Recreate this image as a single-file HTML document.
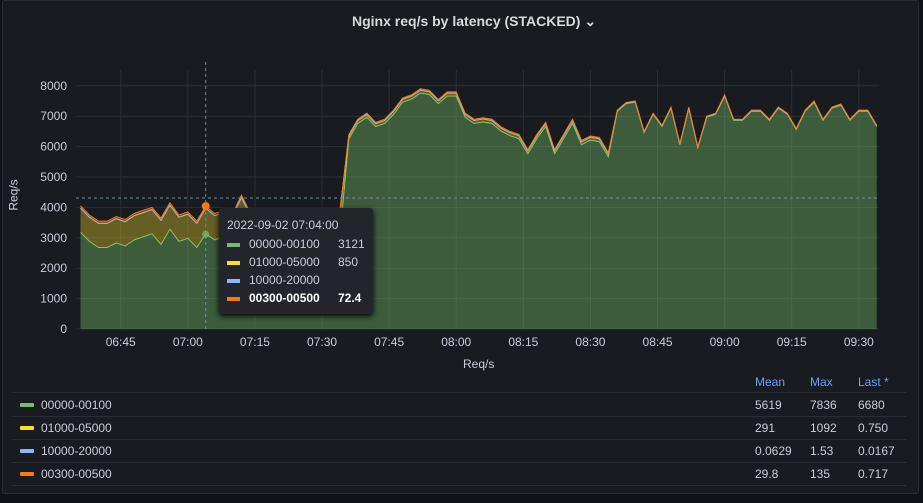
<!DOCTYPE html>
<html><head><meta charset="utf-8"><style>
body{margin:0;width:923px;height:503px;background:#111217;font-family:"Liberation Sans",sans-serif;overflow:hidden;position:relative}
.panel{position:absolute;left:2px;top:0;width:917px;height:494px;background:#181b1f;border:1px solid #2a2d33;border-radius:3px;box-sizing:border-box}
.t{position:absolute;color:#ccccdc;font-size:12px;white-space:nowrap}
.row{position:absolute;left:12px;width:894px;height:23px;border-bottom:1px solid #2a2d33;color:#ccccdc;font-size:12px}
.row span{position:absolute;top:5px}
.sw{position:absolute;left:8px;top:10px;width:14px;height:4px;border-radius:1px}
.hd{position:absolute;top:375px;color:#6e9fff;font-size:12px}
</style></head><body>
<div class="panel"></div>
<div class="t" style="left:352px;top:13px;font-size:14px;font-weight:bold;color:#d8d9da">Nginx req/s by latency (STACKED) ⌄</div>
<svg id="chart" width="923" height="503" style="position:absolute;left:0;top:0"></svg>
<div class="t" style="left:463px;top:357px">Req/s</div>
<div class="t" style="left:-2px;top:188px;transform:rotate(-90deg)">Req/s</div>
<div class="hd" style="left:755px">Mean</div>
<div class="hd" style="left:810px">Max</div>
<div class="hd" style="left:858px">Last *</div>
<div style="position:absolute;left:12px;top:392px;width:894px;border-top:1px solid #2a2d33"></div>
<div class="row" style="top:393px"><div class="sw" style="background:#73bf69"></div><span style="left:29px">00000-00100</span><span style="left:743px">5619</span><span style="left:798px">7836</span><span style="left:846px">6680</span></div>
<div class="row" style="top:416px"><div class="sw" style="background:#fade2a"></div><span style="left:29px">01000-05000</span><span style="left:743px">291</span><span style="left:798px">1092</span><span style="left:846px">0.750</span></div>
<div class="row" style="top:439px"><div class="sw" style="background:#8ab8ff"></div><span style="left:29px">10000-20000</span><span style="left:743px">0.0629</span><span style="left:798px">1.53</span><span style="left:846px">0.0167</span></div>
<div class="row" style="top:462px"><div class="sw" style="background:#ff780a"></div><span style="left:29px">00300-00500</span><span style="left:743px">29.8</span><span style="left:798px">135</span><span style="left:846px">0.717</span></div>
<div style="position:absolute;left:219px;top:208px;width:154px;height:106px;background:#22252b;border-radius:3px;box-shadow:0 2px 6px #000">
<div class="t" style="left:8px;top:10px">2022-09-02 07:04:00</div>
<div style="position:absolute;left:8px;top:35px;width:13px;height:4px;background:#73bf69"></div><div class="t" style="left:30px;top:29px">00000-00100</div><div class="t" style="left:119px;top:29px">3121</div>
<div style="position:absolute;left:8px;top:53px;width:13px;height:4px;background:#fade2a"></div><div class="t" style="left:30px;top:47px">01000-05000</div><div class="t" style="left:119px;top:47px">850</div>
<div style="position:absolute;left:8px;top:71px;width:13px;height:4px;background:#8ab8ff"></div><div class="t" style="left:30px;top:65px">10000-20000</div>
<div style="position:absolute;left:8px;top:89px;width:13px;height:4px;background:#ff780a"></div><div class="t" style="left:30px;top:83px;font-weight:bold;color:#fff">00300-00500</div><div class="t" style="left:119px;top:83px;font-weight:bold;color:#fff">72.4</div>
</div>
<script>
const startMinute = 6*60+36; // 06:36, 2-minute steps
const green = [3180,2880,2680,2680,2830,2730,2930,3030,3130,2780,3280,2880,2980,2680,3121,2930,3030,2930,3530,2930,3030,2980,3030,2980,3030,2980,3030,2980,3030,3030,
6260,6760,6960,6660,6760,7060,7460,7560,7760,7710,7410,7660,7660,6960,6760,6810,6760,6510,6360,6260,5760,6260,6660,5760,6260,6760,6060,6210,6160,5660,
7165,7415,7465,6465,7065,6665,7265,6065,7265,5965,6965,7065,7665,6865,6865,7165,7165,6865,7265,7065,6565,7165,7465,6865,7265,7365,6865,7165,7165,6665];
const yellow = [800,800,800,800,800,800,800,800,800,800,800,800,800,800,850,800,800,800,800,800,800,800,800,800,800,800,800,800,800,800,
100,100,100,100,100,100,100,100,100,100,100,100,100,100,100,100,100,100,100,100,100,100,100,100,100,100,100,100,100,100,
15,15,15,15,15,15,15,15,15,15,15,15,15,15,15,15,15,15,15,15,15,15,15,15,15,15,15,15,15,15];
const blue = new Array(90).fill(0.06);
const orange = [70,70,70,70,70,70,70,70,70,70,70,70,70,70,72,70,70,70,70,70,70,70,70,70,70,70,70,70,70,70,
40,40,40,40,40,40,40,40,40,40,40,40,40,40,40,40,40,40,40,40,40,40,40,40,40,40,40,40,40,40,
20,20,20,20,20,20,20,20,20,20,20,20,20,20,20,20,20,20,20,20,20,20,20,20,20,20,20,20,20,20];
const yTicks = [0,1000,2000,3000,4000,5000,6000,7000,8000];
const xTickLabels = ["06:45","07:00","07:15","07:30","07:45","08:00","08:15","08:30","08:45","09:00","09:15","09:30"];
const seriesNames = ["00000-00100","01000-05000","10000-20000","00300-00500"];
const seriesColors = ["#73bf69","#fade2a","#8ab8ff","#ff780a"];

const svg = document.getElementById('chart');
const NS = 'http://www.w3.org/2000/svg';
const X0=76, X1=879, Y0=329, PX_PER=30.4/1000, MIN0=6*60+35, PX_MIN=67.1/15;
const xs = m => X0 + (m-MIN0)*PX_MIN;
const ys = v => Y0 - v*PX_PER;
function mk(tag, attrs){const e=document.createElementNS(NS,tag);for(const k in attrs)e.setAttribute(k,attrs[k]);svg.appendChild(e);return e;}
yTicks.forEach(v=>{
  const l=mk('line',{x1:X0,x2:X1,y1:ys(v),y2:ys(v),stroke:'#2c2f35'});
  
  
  const t=mk('text',{x:67,y:ys(v)+4,'text-anchor':'end',fill:'#ccccdc','font-size':12,'font-family':'Liberation Sans'});
  t.textContent=v;
  
  
});
xTickLabels.forEach(s=>{
  const [h,m]=s.split(':').map(Number);const x=xs(h*60+m);
  const l=mk('line',{x1:x,x2:x,y1:70,y2:Y0,stroke:'#2c2f35'});
  
  
  const t=mk('text',{x:x,y:346,'text-anchor':'middle',fill:'#ccccdc','font-size':12,'font-family':'Liberation Sans'});
  t.textContent=s;
  
  
});
const layers=[green,yellow,blue,orange];
let base=new Array(green.length).fill(0);
layers.forEach((arr,li)=>{
  const top=base.map((b,i)=>b+arr[i]);
  const px=i=>xs(startMinute+2*i);
  let d='M'+top.map((v,i)=>px(i).toFixed(1)+','+ys(v).toFixed(1)).join('L');
  for(let i=base.length-1;i>=0;i--) d+='L'+px(i).toFixed(1)+','+ys(base[i]).toFixed(1);
  const a=mk('path',{d:d+'Z',fill:seriesColors[li],'fill-opacity':li==0?0.4:0.35});
  
  
  const l=mk('polyline',{points:top.map((v,i)=>px(i).toFixed(1)+','+ys(v).toFixed(1)).join(' '),fill:'none',stroke:seriesColors[li],'stroke-width':1});
  
  
  base=top;
});
const cx=xs(7*60+4);
const ch=mk('line',{x1:cx,x2:cx,y1:62,y2:Y0,stroke:'#6e8ea8','stroke-dasharray':'3,3'});


const chh=mk('line',{x1:X0,x2:X1,y1:198,y2:198,stroke:'#6e8ea8','stroke-dasharray':'3,3'});


const i0=(7*60+4-startMinute)/2;
const dot=mk('circle',{cx:cx,cy:ys(base[i0]),r:4,fill:'#ff780a'});


const dot2=mk('circle',{cx:cx,cy:ys(green[i0]),r:3.5,fill:'#73bf69','fill-opacity':0.7});


</script>
</body></html>
